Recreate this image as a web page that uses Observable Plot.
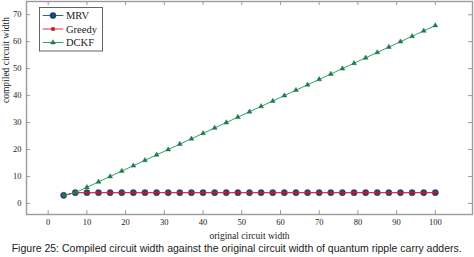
<!DOCTYPE html>
<html><head><meta charset="utf-8">
<script src="https://cdn.jsdelivr.net/npm/d3@7"></script>
<script src="https://cdn.jsdelivr.net/npm/@observablehq/plot@0.6"></script>
<style>
body{margin:0;background:#fff;}
#wrap{position:relative;width:474px;height:257px;overflow:hidden;}
#overlay{position:absolute;left:0;top:0;}
</style></head><body><div id="wrap"></div>
<script>
const xs = [4,7,10,13,16,19,22,25,28,31,34,37,40,43,46,49,52,55,58,61,64,67,70,73,76,79,82,85,88,91,94,97,100];
const mrv = [3,4,4,4,4,4,4,4,4,4,4,4,4,4,4,4,4,4,4,4,4,4,4,4,4,4,4,4,4,4,4,4,4];
const greedy = [3,4,4,4,4,4,4,4,4,4,4,4,4,4,4,4,4,4,4,4,4,4,4,4,4,4,4,4,4,4,4,4,4];
const dckf = [3,4,6,8,10,12,14,16,18,20,22,24,26,28,30,32,34,36,38,40,42,44,46,48,50,52,54,56,58,60,62,64,66];
const xTicks = [0,10,20,30,40,50,60,70,80,90,100];
const yTicks = [0,10,20,30,40,50,60,70];
const seriesNames = ["MRV","Greedy","DCKF"];
const xLabel = "original circuit width";
const yLabel = "compiled circuit width";
const caption = "Figure 25: Compiled circuit width against the original circuit width of quantum ripple carry adders.";

const style = {
  MRV:    {line:"#2f62b0", mark:"#1c4577", symbol:"circle",   r:3.1},
  Greedy: {line:"#d9303a", mark:"#c0142c", symbol:"square",   r:1.7},
  DCKF:   {line:"#35a06a", mark:"#1f7a4c", symbol:"triangle", r:1.8}
};
const seriesData = {MRV: mrv, Greedy: greedy, DCKF: dckf};
const rows = s => xs.map((x, i) => ({x, y: s[i]}));

const W = 474, H = 257, mL = 26, mR = 2, mT = 1, mB = 43;
const fw = W - mL - mR, fh = H - mT - mB;
const serif = "'Liberation Serif','DejaVu Serif',serif";
const tickLen = 4, axisGray = "#9a9a9a";

const seriesMarks = seriesNames.flatMap(name => {
  const st = style[name], d = rows(seriesData[name]);
  return [
    Plot.line(d, {x: "x", y: "y", stroke: st.line, strokeWidth: 1}),
    Plot.dot(d, {x: "x", y: "y", symbol: st.symbol, r: st.r, fill: st.mark, stroke: st.mark, strokeWidth: 0.5})
  ];
});

const plot = Plot.plot({
  width: W, height: H,
  marginLeft: mL, marginRight: mR, marginTop: mT, marginBottom: mB,
  style: {fontFamily: serif, fontSize: "8.5px", background: "#fff", color: "#222"},
  x: {domain: [-5.6, 109.6]},
  y: {domain: [-4.1, 74.9]},
  marks: [
    Plot.axisX(xTicks, {tickSize: 0, tickPadding: 4, label: null, fontSize: 8.5}),
    Plot.axisY(yTicks, {tickSize: 0, tickPadding: 5, label: null, fontSize: 8.5}),
    Plot.tickX(xTicks, {x: d => d, insetTop: fh - tickLen, stroke: axisGray}),
    Plot.tickX(xTicks, {x: d => d, insetBottom: fh - tickLen, stroke: axisGray}),
    Plot.tickY(yTicks, {y: d => d, insetRight: fw - tickLen, stroke: axisGray}),
    Plot.tickY(yTicks, {y: d => d, insetLeft: fw - tickLen, stroke: axisGray}),
    Plot.frame({stroke: axisGray, strokeWidth: 1.4}),
    ...seriesMarks,
    Plot.text([xLabel], {text: d => d, frameAnchor: "bottom", dy: 24, fontSize: 9.5}),
    Plot.text([yLabel], {text: d => d, frameAnchor: "left", rotate: -90, dx: -21, dy: -5, fontSize: 9.5})
  ]
});
const wrap = document.getElementById("wrap");
wrap.appendChild(plot);

// legend and caption overlay
const ns = "http://www.w3.org/2000/svg";
const ov = document.createElementNS(ns, "svg");
ov.setAttribute("id", "overlay");
ov.setAttribute("width", W); ov.setAttribute("height", H);
const el = (tag, attrs, parent = ov) => {
  const e = document.createElementNS(ns, tag);
  for (const k in attrs) e.setAttribute(k, attrs[k]);
  parent.appendChild(e); return e;
};
el("rect", {x: 39.5, y: 7.5, width: 63, height: 43.5, fill: "#fff", stroke: "#555", "stroke-width": 0.9});
const legY = [15.5, 29, 42.5];
const symType = {circle: d3.symbolCircle, square: d3.symbolSquare, triangle: d3.symbolTriangle};
seriesNames.forEach((name, i) => {
  const st = style[name], y = legY[i];
  el("line", {x1: 42.7, x2: 63.3, y1: y, y2: y, stroke: st.line, "stroke-width": 1});
  const sym = d3.symbol(symType[st.symbol], Math.PI * st.r * st.r);
  el("path", {d: sym(), transform: `translate(53,${y})`, fill: st.mark, stroke: st.mark, "stroke-width": 0.5});
  const t = el("text", {x: 66, y: y + 3.6, "font-family": serif, "font-size": 10.5, fill: "#222"});
  t.textContent = name;
});
const cap = el("text", {x: 11.7, y: 252, "font-family": "'Liberation Sans','DejaVu Sans',sans-serif", "font-size": 10.5, fill: "#222", textLength: 450, lengthAdjust: "spacingAndGlyphs"});
cap.textContent = caption;
wrap.appendChild(ov);
</script>
</body></html>
